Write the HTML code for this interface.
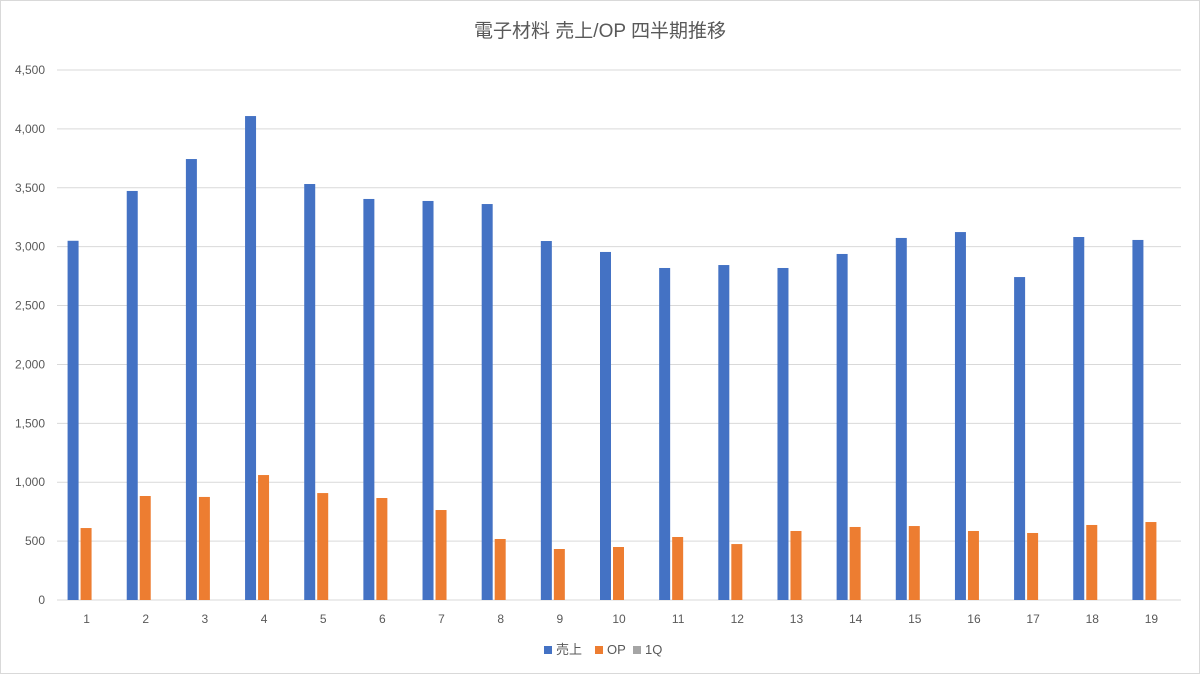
<!DOCTYPE html>
<html><head><meta charset="utf-8"><style>
body{margin:0;background:#fff}
svg{display:block;font-family:"Liberation Sans","Noto Sans CJK JP",sans-serif}
</style></head><body>
<svg id="c" width="1200" height="674">
<rect x="0.5" y="0.5" width="1199" height="673" fill="#fff" stroke="#d9d9d9"/>
<text x="600" y="37" text-anchor="middle" font-size="19" fill="#595959">電子材料 売上/OP 四半期推移</text>
<g id="grid"></g><g id="bars"></g><g id="labels"></g>
<g>
<rect x="544" y="646" width="8" height="8" fill="#4472c4"/>
<text x="556" y="654" font-size="13" fill="#595959">売上</text>
<rect x="595" y="646" width="8" height="8" fill="#ed7d31"/>
<text x="607" y="654" font-size="13" fill="#595959">OP</text>
<rect x="633" y="646" width="8" height="8" fill="#a5a5a5"/>
<text x="645" y="654" font-size="13" fill="#595959">1Q</text>
</g>
</svg>
<script>
const categories=[1,2,3,4,5,6,7,8,9,10,11,12,13,14,15,16,17,18,19];
const sales=[3050,3473,3744,4109,3532,3405,3388,3362,3048,2955,2819,2844,2819,2938,3074,3124,2742,3082,3057];
const op=[611,883,875,1061,908,866,764,518,433,450,535,475,586,620,628,586,569,637,662];
const yTicks=[0,500,1000,1500,2000,2500,3000,3500,4000,4500];
const NS="http://www.w3.org/2000/svg";
const L=57,R=1181,T=70,B=600,yMax=4500;
const y=v=>B-(v/yMax)*(B-T);
const bw=(R-L)/categories.length;
const xc=i=>L+bw*(i+0.5);
function mk(tag,attrs,parent,txt){const e=document.createElementNS(NS,tag);for(const k in attrs)e.setAttribute(k,attrs[k]);if(txt!==undefined)e.textContent=txt;document.getElementById(parent).appendChild(e);return e;}
yTicks.forEach(t=>{
 const g=mk('line',{x1:L,x2:R,y1:y(t),y2:y(t),stroke:'#d9d9d9','stroke-width':1},'grid');
 
 
 const tx=mk('text',{x:45,y:y(t)+4,'text-anchor':'end','font-size':12,fill:'#595959'},'labels',t.toLocaleString('en-US'));
 
 
});
categories.forEach((c,i)=>{
 const b=mk('rect',{x:xc(i)-19,y:y(sales[i]),width:11,height:B-y(sales[i]),fill:'#4472c4'},'bars');
 
 
 const o=mk('rect',{x:xc(i)-6,y:y(op[i]),width:11,height:B-y(op[i]),fill:'#ed7d31'},'bars');
 
 
 const tx=mk('text',{x:xc(i),y:623,'text-anchor':'middle','font-size':12,fill:'#595959'},'labels',c);
 
 
});
</script>
</body></html>
